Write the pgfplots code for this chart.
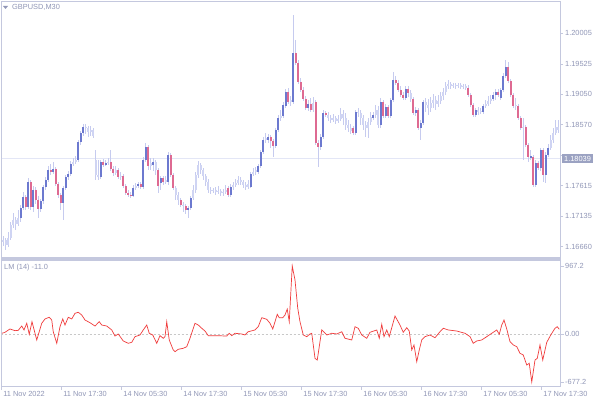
\documentclass[border=0pt]{standalone}
\usepackage{pgfplots}
\usepackage{pgfplotstable}
\pgfplotsset{compat=1.18}
\usepackage{fontspec}
\setmainfont{Liberation Sans}

\definecolor{frame}{HTML}{C4C8DE}
\definecolor{txt}{HTML}{9197B7}
\definecolor{wickc}{HTML}{C6CBEF}
\definecolor{fadec}{HTML}{CFD4F3}
\definecolor{bullc}{HTML}{6C79CF}
\definecolor{bearc}{HTML}{DE6A92}
\definecolor{pricec}{HTML}{E3E6F6}
\definecolor{boxc}{HTML}{9BA2C2}
\definecolor{redc}{HTML}{F03C3C}
\definecolor{zeroc}{HTML}{C8C8C8}

% GBPUSD M30 candles: bar index, open, high, low, close, group (0 plain, 1 up, 2 down)
\pgfplotstableread{
i o h l c g
0 1.16731 1.16825 1.16668 1.16762 0
1 1.16762 1.16794 1.16606 1.16684 0
2 1.16684 1.16888 1.16653 1.16794 0
3 1.16794 1.17045 1.16762 1.16998 0
4 1.16998 1.17186 1.16951 1.17076 0
5 1.17076 1.17123 1.16919 1.17013 0
6 1.17013 1.17233 1.16982 1.17108 0
7 1.17108 1.17312 1.17045 1.17265 1
8 1.17265 1.17516 1.17233 1.17437 1
9 1.17437 1.17469 1.17233 1.17280 2
10 1.17280 1.17735 1.17249 1.17673 1
11 1.17673 1.17704 1.17233 1.17280 2
12 1.17280 1.17610 1.17202 1.17547 1
13 1.17547 1.17594 1.17327 1.17390 2
14 1.17390 1.17453 1.17108 1.17249 2
15 1.17249 1.17406 1.17202 1.17374 1
16 1.17374 1.17626 1.17327 1.17594 1
17 1.17594 1.17751 1.17547 1.17704 1
18 1.17704 1.17924 1.17673 1.17861 1
19 1.17861 1.17955 1.17782 1.17829 2
20 1.17829 1.17986 1.17798 1.17876 1
21 1.17876 1.17908 1.17610 1.17641 2
22 1.17641 1.17673 1.17422 1.17469 2
23 1.17469 1.17500 1.17233 1.17343 2
24 1.17343 1.17610 1.17076 1.17578 1
25 1.17578 1.17782 1.17547 1.17751 1
26 1.17751 1.17845 1.17704 1.17798 1
27 1.17798 1.18002 1.17767 1.17955 1
28 1.17955 1.18049 1.17924 1.17986 0
29 1.17986 1.18080 1.17955 1.18018 0
30 1.18018 1.18331 1.17986 1.18300 1
31 1.18300 1.18473 1.18253 1.18441 1
32 1.18441 1.18583 1.18394 1.18535 1
33 1.18535 1.18583 1.18426 1.18520 0
34 1.18520 1.18551 1.18379 1.18457 0
35 1.18457 1.18551 1.18394 1.18488 0
36 1.18488 1.18520 1.18363 1.18394 0
37 1.18018 1.18174 1.17704 1.17782 0
38 1.17782 1.18018 1.17704 1.17751 0
39 1.17751 1.18018 1.17720 1.17986 1
40 1.17986 1.18033 1.17908 1.17939 2
41 1.17939 1.18018 1.17924 1.17971 1
42 1.17971 1.18049 1.17939 1.17986 0
43 1.17986 1.18174 1.17845 1.17876 2
44 1.17876 1.17924 1.17767 1.17814 2
45 1.17814 1.17924 1.17782 1.17861 0
46 1.17861 1.17892 1.17720 1.17751 2
47 1.17751 1.17829 1.17704 1.17767 0
48 1.17767 1.17798 1.17578 1.17610 2
49 1.17610 1.17641 1.17469 1.17500 2
50 1.17500 1.17547 1.17437 1.17469 2
51 1.17469 1.17516 1.17422 1.17453 2
52 1.17453 1.17626 1.17437 1.17578 1
53 1.17578 1.17657 1.17547 1.17610 0
54 1.17610 1.17673 1.17578 1.17641 1
55 1.17641 1.17673 1.17563 1.17594 2
56 1.17594 1.18065 1.17563 1.18018 1
57 1.18018 1.18284 1.17986 1.18222 1
58 1.18222 1.18253 1.17861 1.17924 2
59 1.17924 1.18049 1.17861 1.17971 0
60 1.17939 1.18049 1.17845 1.17986 1
61 1.17986 1.18018 1.17782 1.17861 0
62 1.17861 1.17892 1.17500 1.17610 2
63 1.17657 1.17767 1.17547 1.17735 1
64 1.17735 1.17767 1.17626 1.17673 2
65 1.17673 1.17767 1.17641 1.17704 0
66 1.17673 1.18143 1.17626 1.18096 1
67 1.18096 1.18127 1.17751 1.17782 2
68 1.17782 1.17814 1.17547 1.17578 2
69 1.17578 1.17610 1.17390 1.17469 0
70 1.17469 1.17516 1.17312 1.17390 0
71 1.17390 1.17422 1.17280 1.17312 2
72 1.17312 1.17359 1.17202 1.17296 0
73 1.17296 1.17327 1.17170 1.17233 2
74 1.17233 1.17296 1.17108 1.17265 1
75 1.17265 1.17453 1.17233 1.17422 1
76 1.17422 1.17626 1.17390 1.17547 0
77 1.17547 1.17829 1.17500 1.17782 0
78 1.17782 1.18002 1.17735 1.17939 0
79 1.17939 1.17971 1.17798 1.17861 0
80 1.17861 1.17892 1.17704 1.17767 0
81 1.17767 1.17798 1.17610 1.17673 0
82 1.17673 1.17720 1.17500 1.17547 0
83 1.17547 1.17594 1.17484 1.17531 0
84 1.17531 1.17578 1.17500 1.17547 0
85 1.17547 1.17594 1.17469 1.17516 0
86 1.17516 1.17610 1.17484 1.17531 0
87 1.17531 1.17563 1.17453 1.17500 0
88 1.17500 1.17563 1.17453 1.17516 0
89 1.17516 1.17626 1.17484 1.17547 0
90 1.17578 1.17610 1.17437 1.17469 2
91 1.17469 1.17641 1.17437 1.17594 1
92 1.17594 1.17673 1.17547 1.17626 0
93 1.17626 1.17720 1.17594 1.17657 0
94 1.17657 1.17767 1.17626 1.17704 0
95 1.17704 1.17751 1.17626 1.17673 0
96 1.17673 1.17704 1.17578 1.17626 0
97 1.17626 1.17673 1.17547 1.17594 0
98 1.17594 1.17704 1.17563 1.17641 0
99 1.17594 1.17829 1.17578 1.17798 1
100 1.17798 1.17892 1.17767 1.17829 0
101 1.17829 1.17908 1.17782 1.17861 0
102 1.17829 1.17955 1.17798 1.17924 1
103 1.17924 1.18174 1.17892 1.18143 1
104 1.18143 1.18379 1.18112 1.18331 1
105 1.18331 1.18441 1.18284 1.18363 0
106 1.18331 1.18426 1.18284 1.18379 1
107 1.18379 1.18410 1.18206 1.18316 2
108 1.18316 1.18347 1.18065 1.18237 2
109 1.18237 1.18520 1.18206 1.18488 1
110 1.18488 1.18724 1.18457 1.18677 1
111 1.18677 1.18802 1.18630 1.18708 0
112 1.18708 1.18928 1.18677 1.18881 1
113 1.18865 1.19132 1.18834 1.19085 1
114 1.19085 1.19147 1.18896 1.18928 2
115 1.18928 1.19022 1.18865 1.18959 0
116 1.18928 1.20293 1.18896 1.19696 1
117 1.19696 1.19900 1.19508 1.19540 2
118 1.19540 1.19587 1.19210 1.19241 2
119 1.19241 1.19304 1.19085 1.19116 2
120 1.19116 1.19163 1.18943 1.18975 2
121 1.18975 1.19022 1.18802 1.18834 2
122 1.18834 1.18959 1.18787 1.18896 1
123 1.18896 1.18990 1.18771 1.18802 2
124 1.18802 1.19006 1.18771 1.18912 0
125 1.18928 1.18959 1.18253 1.18284 2
126 1.18284 1.18331 1.17908 1.18222 2
127 1.18222 1.18426 1.18174 1.18379 1
128 1.18379 1.18802 1.18347 1.18755 1
129 1.18755 1.18787 1.18692 1.18724 2
130 1.18724 1.18771 1.18630 1.18677 0
131 1.18677 1.18724 1.18598 1.18645 0
132 1.18645 1.18739 1.18614 1.18677 0
133 1.18677 1.18708 1.18583 1.18630 0
134 1.18630 1.18724 1.18598 1.18661 0
135 1.18661 1.18834 1.18630 1.18739 0
136 1.18739 1.18802 1.18567 1.18677 0
137 1.18677 1.18755 1.18488 1.18567 0
138 1.18567 1.18645 1.18457 1.18520 0
139 1.18520 1.18583 1.18426 1.18473 0
140 1.18520 1.18551 1.18410 1.18441 2
141 1.18441 1.18802 1.18410 1.18771 1
142 1.18771 1.18834 1.18692 1.18755 0
143 1.18755 1.18802 1.18567 1.18677 0
144 1.18677 1.18724 1.18488 1.18567 0
145 1.18567 1.18630 1.18379 1.18520 0
146 1.18520 1.18677 1.18363 1.18614 0
147 1.18614 1.18771 1.18567 1.18692 0
148 1.18677 1.18771 1.18645 1.18724 1
149 1.18724 1.18881 1.18677 1.18802 0
150 1.18802 1.18865 1.18520 1.18567 0
151 1.18567 1.18990 1.18520 1.18928 1
152 1.18928 1.18959 1.18677 1.18708 2
153 1.18708 1.18896 1.18677 1.18849 1
154 1.18849 1.18881 1.18677 1.18708 2
155 1.18708 1.18990 1.18677 1.18959 1
156 1.18959 1.19398 1.18928 1.19273 1
157 1.19273 1.19336 1.19194 1.19226 2
158 1.19226 1.19273 1.19085 1.19116 2
159 1.19116 1.19179 1.19006 1.19037 2
160 1.19037 1.19085 1.18959 1.18990 2
161 1.18990 1.19179 1.18959 1.19132 1
162 1.19132 1.19179 1.19006 1.19069 2
163 1.19069 1.19116 1.18928 1.18975 0
164 1.18975 1.19006 1.18724 1.18755 2
165 1.18755 1.18849 1.18708 1.18802 1
166 1.18802 1.18834 1.18488 1.18520 2
167 1.18520 1.18645 1.18331 1.18598 1
168 1.18598 1.18959 1.18567 1.18928 1
169 1.18928 1.18990 1.18771 1.18881 0
170 1.18881 1.18975 1.18724 1.18834 0
171 1.18834 1.19006 1.18771 1.18912 0
172 1.18912 1.19053 1.18834 1.18959 0
173 1.18959 1.19022 1.18802 1.18896 0
174 1.18896 1.19037 1.18849 1.18943 0
175 1.18943 1.19085 1.18896 1.19022 0
176 1.19022 1.19147 1.18959 1.19085 0
177 1.19085 1.19241 1.19037 1.19179 0
178 1.19179 1.19273 1.19132 1.19210 0
179 1.19210 1.19241 1.19132 1.19179 0
180 1.19179 1.19226 1.19147 1.19194 0
181 1.19194 1.19226 1.19132 1.19179 0
182 1.19179 1.19226 1.19147 1.19194 0
183 1.19194 1.19226 1.19132 1.19163 0
184 1.19163 1.19210 1.19132 1.19179 0
185 1.19179 1.19210 1.19116 1.19147 0
186 1.19147 1.19194 1.19006 1.19037 2
187 1.19037 1.19069 1.18849 1.18881 2
188 1.18881 1.18912 1.18692 1.18724 2
189 1.18724 1.18834 1.18692 1.18802 1
190 1.18802 1.18849 1.18724 1.18771 0
191 1.18771 1.18834 1.18739 1.18787 0
192 1.18771 1.18896 1.18739 1.18865 1
193 1.18865 1.18959 1.18834 1.18896 0
194 1.18896 1.19022 1.18865 1.18943 0
195 1.18943 1.19037 1.18896 1.18975 0
196 1.18975 1.19085 1.18943 1.19037 1
197 1.19037 1.19132 1.18959 1.19085 1
198 1.19085 1.19132 1.19006 1.19037 2
199 1.18990 1.19147 1.18959 1.19116 1
200 1.19116 1.19383 1.19085 1.19336 1
201 1.19336 1.19587 1.19304 1.19477 1
202 1.19477 1.19555 1.19226 1.19257 2
203 1.19257 1.19289 1.19006 1.19037 2
204 1.19037 1.19069 1.18834 1.18865 2
205 1.18865 1.18990 1.18802 1.18881 0
206 1.18865 1.18896 1.18645 1.18677 2
207 1.18677 1.18708 1.18488 1.18520 2
208 1.18520 1.18677 1.18018 1.18535 0
209 1.18535 1.18567 1.18222 1.18253 2
210 1.18253 1.18284 1.17986 1.18065 2
211 1.18049 1.18174 1.18018 1.18080 1
212 1.18065 1.18096 1.17594 1.17626 2
213 1.17626 1.18018 1.17594 1.17971 1
214 1.17971 1.18002 1.17861 1.17892 2
215 1.17892 1.18206 1.17845 1.18174 1
216 1.18174 1.18206 1.17673 1.17782 2
217 1.17782 1.18143 1.17657 1.18096 1
218 1.18096 1.18269 1.18065 1.18206 1
219 1.18206 1.18410 1.18174 1.18331 0
220 1.18331 1.18520 1.18284 1.18441 0
221 1.18441 1.18645 1.18410 1.18535 0
222 1.18535 1.18645 1.18441 1.18488 0
}\candles

% LM (14) indicator
\pgfplotstableread{
i v
-0.4 13
0.8 27
2.8 74
4.8 50
6.1 55
7.5 116
8.4 60
9.5 155
10.5 -1
11.6 177
13.5 -82
15.5 155
16.8 216
18.5 240
19.5 201
20.1 35
21.5 -129
22.8 106
23.9 216
24.8 130
26.1 240
27.5 216
28.8 296
30.1 311
31.5 272
32.8 201
34.8 163
36.8 116
38.5 177
39.5 130
41.5 116
43.5 60
44.8 -26
46.1 3
48.1 -96
50.1 -129
51.5 -115
52.8 -35
54.8 -11
56.1 60
57.5 130
58.5 13
59.9 -11
61.5 -129
62.8 -21
64.1 -58
64.8 -35
65.5 177
66.5 -82
68.1 -224
68.8 -248
70.1 -214
72.1 -200
73.5 -177
74.8 -58
76.8 155
78.1 130
79.5 84
80.8 45
82.1 -21
85.5 -21
89.5 -26
90.5 13
91.5 -21
92.8 13
95.5 3
96.8 -11
98.1 35
100.8 60
102.1 106
103.5 234
105.5 211
106.8 155
107.9 74
108.8 177
109.7 282
110.5 234
111.9 234
112.8 272
113.7 357
114.5 177
115.7 967.2
116.8 769
117.9 367
118.8 177
120.1 -11
121.5 -35
122.8 3
123.5 13
124.8 -342
125.7 -366
127.5 60
129.5 -11
131.5 13
133.5 3
135.5 35
136.8 -58
139.5 -82
140.8 106
142.1 84
143.5 -11
145.5 -58
146.8 27
149.5 60
150.5 -58
151.5 140
152.4 -35
153.5 60
154.5 -35
156.8 258
158.8 130
160.1 27
161.5 92
162.5 45
163.5 -224
164.4 -153
165.5 -390
166.5 -224
167.5 -82
168.8 -35
170.8 -11
172.8 -50
174.8 35
176.1 84
178.1 60
181.5 45
184.8 13
186.8 -35
188.1 -129
189.5 -96
191.5 -82
193.5 -35
195.5 13
197.5 60
198.5 -1
199.5 130
200.4 201
201.5 74
202.8 -106
204.1 -153
205.5 -177
206.8 -271
208.1 -295
209.5 -437
210.5 -413
211.5 -677.2
212.8 -366
213.7 -342
214.8 -153
215.9 -366
217.5 -115
219.1 -11
220.8 84
221.7 106
222.5 70
}\lm

\pgfplotsset{
  panel/.style={scale only axis, width=558.5pt,
    xmin=-0.6, xmax=222.8,
    axis line style={draw=frame, line width=1pt},
    tick style={draw=frame, line width=0.6pt},
    tick align=outside, ytick pos=right,
    xticklabel=\empty, yticklabel=\empty},
  candle/.style n args={2}{draw=none, forget plot,
    error bars/.cd, y dir=plus, y explicit, error mark=none,
    error bar style={draw=#1, line width=#2}},
}

\begin{document}
\begin{tikzpicture}[x=1pt, y=1pt, font=\fontsize{7.4}{8.5}\selectfont]
\fill[white] (0,0) rectangle (600,400);

% price window
\begin{axis}[panel, at={(1.5pt,142.5pt)}, anchor=south west, height=255.5pt,
  disabledatascaling,
  ymin=1.164878, ymax=1.204966,
  xtick=\empty, major tick length=3pt,
  ytick={1.20005,1.19525,1.19050,1.18570,1.18090,1.17615,1.17135,1.16660}]
\addplot[pricec, line width=0.8pt] coordinates {(-0.6,1.18039) (222.8,1.18039)};
% wicks
\addplot[candle={wickc}{0.7pt}]
  table[x=i, y=l, y error plus expr=\thisrow{h}-\thisrow{l}] {\candles};
% bodies
\addplot[restrict expr to domain={\thisrow{g}}{0:0}, candle={fadec}{2pt}]
  table[x=i, y=o, y error plus expr=\thisrow{c}-\thisrow{o}] {\candles};
\addplot[restrict expr to domain={\thisrow{g}}{1:1}, candle={bullc}{2pt}]
  table[x=i, y=o, y error plus expr=\thisrow{c}-\thisrow{o}] {\candles};
\addplot[restrict expr to domain={\thisrow{g}}{2:2}, candle={bearc}{2pt}]
  table[x=i, y=o, y error plus expr=\thisrow{c}-\thisrow{o}] {\candles};
\end{axis}

% indicator window
\begin{axis}[panel, at={(1.5pt,14pt)}, anchor=south west, height=126pt,
  ymin=-734.5, ymax=1052,
  xtick={-0.52,23.48,47.48,71.48,95.48,119.48,143.48,167.48,191.48,215.48},
  xtick pos=bottom, major tick length=4pt,
  ytick={-677.2,0,967.2}]
\addplot[zeroc, line width=0.5pt, dash pattern=on 2pt off 2pt] coordinates {(-0.6,0) (222.8,0)};
\addplot[redc, line width=0.7pt] table[x=i, y=v] {\lm};
\end{axis}

% band between the windows
\fill[frame] (1,139.5) rectangle (560.5,143);

% labels
\fill[txt] (3,394) -- (8,394) -- (5.5,391) -- cycle;
\node[txt, anchor=west, inner sep=0pt] at (12,392.5) {GBPUSD,M30};
\node[txt, anchor=west, inner sep=0pt] at (4,132.5) {LM (14) -11.0};

% the 1.18090 label sits under the current-price box, so it is left out
\foreach \y/\t in {366.7/1.20005, 336.1/1.19525, 305.8/1.19050, 275.2/1.18570,
  214.3/1.17615, 183.7/1.17135, 153.5/1.16660,
  134/967.2, 65.8/0.00, 18/-677.2}
  \node[txt, anchor=mid west, inner sep=0pt] at (565,\y) {\t};

\node[fill=boxc, text=white, anchor=mid west, inner xsep=2pt, inner ysep=1.5pt,
  minimum height=9pt] at (562,241.4) {1.18039};

\foreach \k/\t in {0/11 Nov 2022, 1/11 Nov 17:30, 2/14 Nov 05:30, 3/14 Nov 17:30,
  4/15 Nov 05:30, 5/15 Nov 17:30, 6/16 Nov 05:30, 7/16 Nov 17:30,
  8/17 Nov 05:30, 9/17 Nov 17:30}
  \node[txt, anchor=base west, inner sep=0pt] at ({3.2+60*\k},4) {\t};

\pgfresetboundingbox
\useasboundingbox (0,0) rectangle (600,400);
\end{tikzpicture}
\end{document}
